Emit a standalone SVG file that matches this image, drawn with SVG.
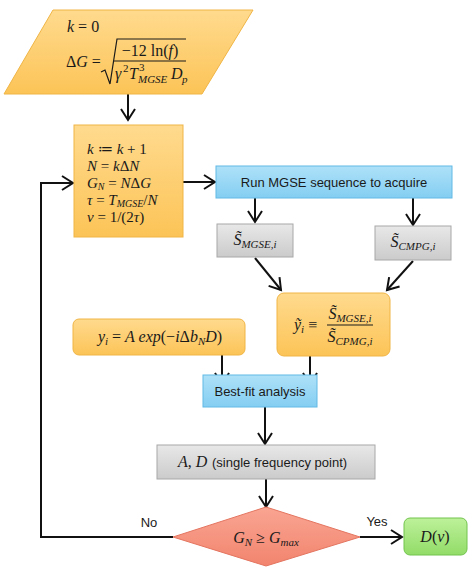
<svg xmlns="http://www.w3.org/2000/svg" width="474" height="572" viewBox="0 0 474 572">
<defs>
<linearGradient id="gO" x1="0" y1="0" x2="0" y2="1"><stop offset="0" stop-color="#FFDA8E"/><stop offset="1" stop-color="#FCC457"/></linearGradient>
<linearGradient id="gB" x1="0" y1="0" x2="0" y2="1"><stop offset="0" stop-color="#AEE1F8"/><stop offset="1" stop-color="#84CEF2"/></linearGradient>
<linearGradient id="gG" x1="0" y1="0" x2="0" y2="1"><stop offset="0" stop-color="#E8E8E8"/><stop offset="1" stop-color="#CBCBCB"/></linearGradient>
<linearGradient id="gR" x1="0" y1="0" x2="0" y2="1"><stop offset="0" stop-color="#F9A592"/><stop offset="1" stop-color="#F2846E"/></linearGradient>
<linearGradient id="gV" x1="0" y1="0" x2="0" y2="1"><stop offset="0" stop-color="#BDF19A"/><stop offset="1" stop-color="#92DC68"/></linearGradient>
<marker id="ar" markerUnits="userSpaceOnUse" markerWidth="16" markerHeight="18" refX="13" refY="8" orient="auto" viewBox="0 0 16 16">
<path d="M2,1 L13,8 L2,15" fill="none" stroke="#111" stroke-width="2"/>
</marker>
<style>
.o{fill:url(#gO);stroke:#F0B545;stroke-width:1}
.b{fill:url(#gB);stroke:#62B9E6;stroke-width:1}
.g{fill:url(#gG);stroke:#A8A8A8;stroke-width:1}
.r{fill:url(#gR);stroke:#E37560;stroke-width:1}
.v{fill:url(#gV);stroke:#72C44E;stroke-width:1}
.m{font-family:"Liberation Serif","DejaVu Serif",serif;font-style:italic;font-size:16px;fill:#1a1a1a}
.k{font-size:15px}
.u{font-style:normal}
.s{font-size:11px}
.t{font-family:"Liberation Sans",Arial,sans-serif;font-size:13px;fill:#1a1a1a}
.c{fill:none;stroke:#111;stroke-width:2}
.ln{fill:none;stroke:#1a1a1a;stroke-width:1.2}
</style>
</defs>

<g id="connectors">
<path class="c" d="M128,94 L128,120" marker-end="url(#ar)"/>
<path class="c" d="M183,182 L215,182" marker-end="url(#ar)"/>
<path class="c" d="M255,198 L255,222" marker-end="url(#ar)"/>
<path class="c" d="M413,198 L413,225" marker-end="url(#ar)"/>
<path class="c" d="M255,258 L281,290" marker-end="url(#ar)"/>
<path class="c" d="M413,261 L387,290" marker-end="url(#ar)"/>
<path class="c" d="M222,355 L222,384" marker-end="url(#ar)"/>
<path class="c" d="M310,356 L310,384" marker-end="url(#ar)"/>
<path class="c" d="M265,407 L265,444" marker-end="url(#ar)"/>
<path class="c" d="M266,479 L266,507" marker-end="url(#ar)"/>
<path class="c" d="M360,537 L402,537" marker-end="url(#ar)"/>
<path class="c" d="M173,537 L41,537 L41,183 L73,183" marker-end="url(#ar)"/>
<text class="t" x="149" y="527" text-anchor="middle">No</text>
<text class="t" x="377" y="526" text-anchor="middle">Yes</text>
</g>

<g id="init">
<polygon class="o" points="53,10 253,10 202,94 4,94"/>
<text class="m" x="67" y="32">k <tspan class="u">= 0</tspan></text>
<text class="m" x="66" y="67"><tspan class="u">Δ</tspan>G <tspan class="u">=</tspan></text>
<path class="ln" d="M101,72 L105,70 L110,84 L117,39 L186,39"/>
<text class="m" x="150" y="56" text-anchor="middle"><tspan class="u">−12 ln(</tspan>f<tspan class="u">)</tspan></text>
<line class="ln" x1="114" y1="61" x2="186" y2="61"/>
<text class="m" x="115" y="79">γ</text>
<text class="m s u" x="123" y="72">2</text>
<text class="m" x="129" y="79">T</text>
<text class="m s u" x="139" y="71">3</text>
<text class="m s" x="138" y="83">MGSE</text>
<text class="m" x="171" y="79">D</text>
<text class="m s" x="182" y="83">p</text>
</g>

<g id="update">
<rect class="o" x="74" y="125" width="109" height="112"/>
<text class="m k" x="87" y="154">k <tspan class="u">≔</tspan> k <tspan class="u">+ 1</tspan></text>
<text class="m k" x="87" y="171">N <tspan class="u">=</tspan> k<tspan class="u">Δ</tspan>N</text>
<text class="m k" x="87" y="188">G<tspan font-size="10" dy="2">N</tspan><tspan dy="-2" class="u"> =</tspan> N<tspan class="u">Δ</tspan>G</text>
<text class="m k" x="87" y="205">τ <tspan class="u">=</tspan> T<tspan font-size="10" dy="2">MGSE</tspan><tspan dy="-2" class="u">/</tspan>N</text>
<text class="m k" x="87" y="222">ν <tspan class="u">= 1/(2</tspan>τ<tspan class="u">)</tspan></text>
</g>

<g id="run">
<rect class="b" x="216" y="166" width="236" height="32"/>
<text class="t" x="334" y="187" text-anchor="middle">Run MGSE sequence to acquire</text>
</g>

<g id="smgse">
<rect class="g" x="217" y="224" width="76" height="33"/>
<text class="m" x="255" y="245" text-anchor="middle">S̃<tspan class="s" dy="3">MGSE,i</tspan></text>
</g>

<g id="scmpg">
<rect class="g" x="375" y="226" width="76" height="34"/>
<text class="m" x="413" y="247" text-anchor="middle">S̃<tspan class="s" dy="3">CMPG,i</tspan></text>
</g>

<g id="model">
<rect class="o" x="73" y="319" width="172" height="36" rx="6"/>
<text class="m" x="160" y="342" text-anchor="middle">y<tspan class="s" dy="3">i</tspan><tspan dy="-3" class="u"> = </tspan>A exp<tspan class="u">(−</tspan>i<tspan class="u">Δ</tspan>b<tspan class="s" dy="3">N</tspan><tspan dy="-3">D</tspan><tspan class="u">)</tspan></text>
</g>

<g id="ratio">
<rect class="o" x="277" y="293" width="113" height="63" rx="7"/>
<text class="m" x="294" y="330">ỹ<tspan class="s" dy="3">i</tspan><tspan dy="-3" class="u"> ≡</tspan></text>
<text class="m" x="350" y="319" text-anchor="middle">S̃<tspan class="s" dy="3">MGSE,i</tspan></text>
<line class="ln" x1="327" y1="325" x2="373" y2="325"/>
<text class="m" x="350" y="342" text-anchor="middle">S̃<tspan class="s" dy="3">CPMG,i</tspan></text>
</g>

<g id="fit">
<rect class="b" x="203" y="375" width="114" height="32"/>
<text class="t" x="260" y="396" text-anchor="middle">Best-fit analysis</text>
</g>

<g id="result">
<rect class="g" x="157" y="445" width="218" height="34"/>
<text class="m" x="178" y="467">A<tspan class="u">, </tspan>D</text>
<text class="t" x="212" y="467">(single frequency point)</text>
</g>

<g id="decision">
<polygon class="r" points="266,507 360,537 266,566 173,537"/>
<text class="m" x="266" y="543" text-anchor="middle">G<tspan class="s" dy="3">N</tspan><tspan dy="-3" class="u"> ≥ </tspan>G<tspan class="s" dy="3">max</tspan></text>
</g>

<g id="output">
<rect class="v" x="404" y="518" width="63" height="37" rx="6"/>
<text class="m" x="435" y="542" text-anchor="middle">D<tspan class="u">(</tspan>ν<tspan class="u">)</tspan></text>
</g>
</svg>
